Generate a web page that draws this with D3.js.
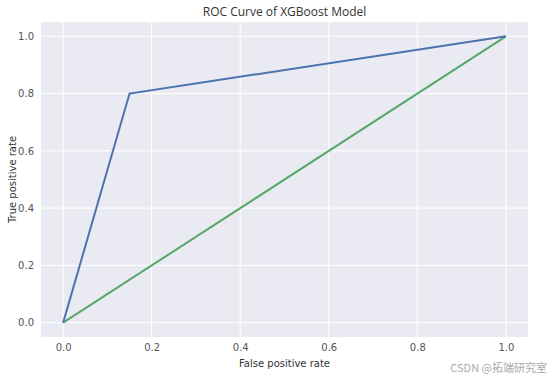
<!DOCTYPE html>
<html>
<head>
<meta charset="utf-8">
<script src="https://cdn.jsdelivr.net/npm/d3@7"></script>
<style>
  body { margin: 0; background: #fff; }
  svg text { font-family: "DejaVu Sans", sans-serif; }
</style>
</head>
<body>
<div id="chart"></div>
<script>
// ROC points
const fprModel = [0, 0.15, 1];
const tprModel = [0, 0.8, 1];
const fprBase = [0, 1];
const tprBase = [0, 1];
const tickValues = [0, 0.2, 0.4, 0.6, 0.8, 1.0];

const width = 551, height = 378;
const margin = {top: 22, right: 23, bottom: 41, left: 41};
const innerW = width - margin.left - margin.right;
const innerH = height - margin.top - margin.bottom;

const svg = d3.select('#chart').append('svg')
    .attr('width', width)
    .attr('height', height);

const chart = svg.append('g')
    .attr('transform', `translate(${margin.left},${margin.top})`);

const x = d3.scaleLinear().domain([-0.05, 1.05]).range([0, innerW]);
const y = d3.scaleLinear().domain([-0.05, 1.05]).range([innerH, 0]);

chart.append('rect')
    .attr('width', innerW)
    .attr('height', innerH)
    .attr('fill', '#eaeaf2');

// grid
chart.selectAll('.vgrid')
    .data(tickValues)
  .join('line')
    .attr('x1', d => x(d)).attr('x2', d => x(d))
    .attr('y1', 0).attr('y2', innerH)
    .attr('stroke', '#fff').attr('stroke-width', 1);

chart.selectAll('.hgrid')
    .data(tickValues)
  .join('line')
    .attr('y1', d => y(d)).attr('y2', d => y(d))
    .attr('x1', 0).attr('x2', innerW)
    .attr('stroke', '#fff').attr('stroke-width', 1);

// axes (no tick marks, seaborn style)
const xAxis = chart.append('g')
    .attr('transform', `translate(0,${innerH})`)
    .call(d3.axisBottom(x).tickValues(tickValues).tickFormat(d3.format('.1f')).tickSize(0).tickPadding(7));
const yAxis = chart.append('g')
    .call(d3.axisLeft(y).tickValues(tickValues).tickFormat(d3.format('.1f')).tickSize(0).tickPadding(7));
[xAxis, yAxis].forEach(a => {
  a.select('.domain').remove();
  a.selectAll('text').attr('fill', '#555').attr('font-size', 10)
      .attr('font-family', '"DejaVu Sans", sans-serif');
});

const line = d3.line().x(d => x(d[0])).y(d => y(d[1]));

chart.append('path')
    .datum(d3.zip(fprBase, tprBase))
    .attr('d', line)
    .attr('fill', 'none')
    .attr('stroke', '#55a868')
    .attr('stroke-width', 2);

chart.append('path')
    .datum(d3.zip(fprModel, tprModel))
    .attr('d', line)
    .attr('fill', 'none')
    .attr('stroke', '#4c72b0')
    .attr('stroke-width', 2);

// title and labels
svg.append('text')
    .attr('x', margin.left + innerW / 2)
    .attr('y', 16)
    .attr('text-anchor', 'middle')
    .attr('font-size', 12)
    .style('font-family', '"Open Sans", sans-serif')
    .attr('fill', '#333')
    .text('ROC Curve of XGBoost Model');

svg.append('text')
    .attr('x', margin.left + innerW / 2)
    .attr('y', 367)
    .attr('text-anchor', 'middle')
    .attr('font-size', 10)
    .attr('fill', '#333')
    .text('False positive rate');

svg.append('text')
    .attr('transform', `translate(16,${margin.top + innerH / 2}) rotate(-90)`)
    .attr('text-anchor', 'middle')
    .attr('font-size', 10)
    .attr('fill', '#333')
    .text('True positive rate');

// watermark
svg.append('text')
    .attr('x', 547)
    .attr('y', 372)
    .attr('text-anchor', 'end')
    .attr('font-size', 11)
    .style('font-family', '"Noto Sans CJK SC", sans-serif')
    .attr('fill', '#aaa')
    .text('CSDN @拓端研究室');
</script>
</body>
</html>
